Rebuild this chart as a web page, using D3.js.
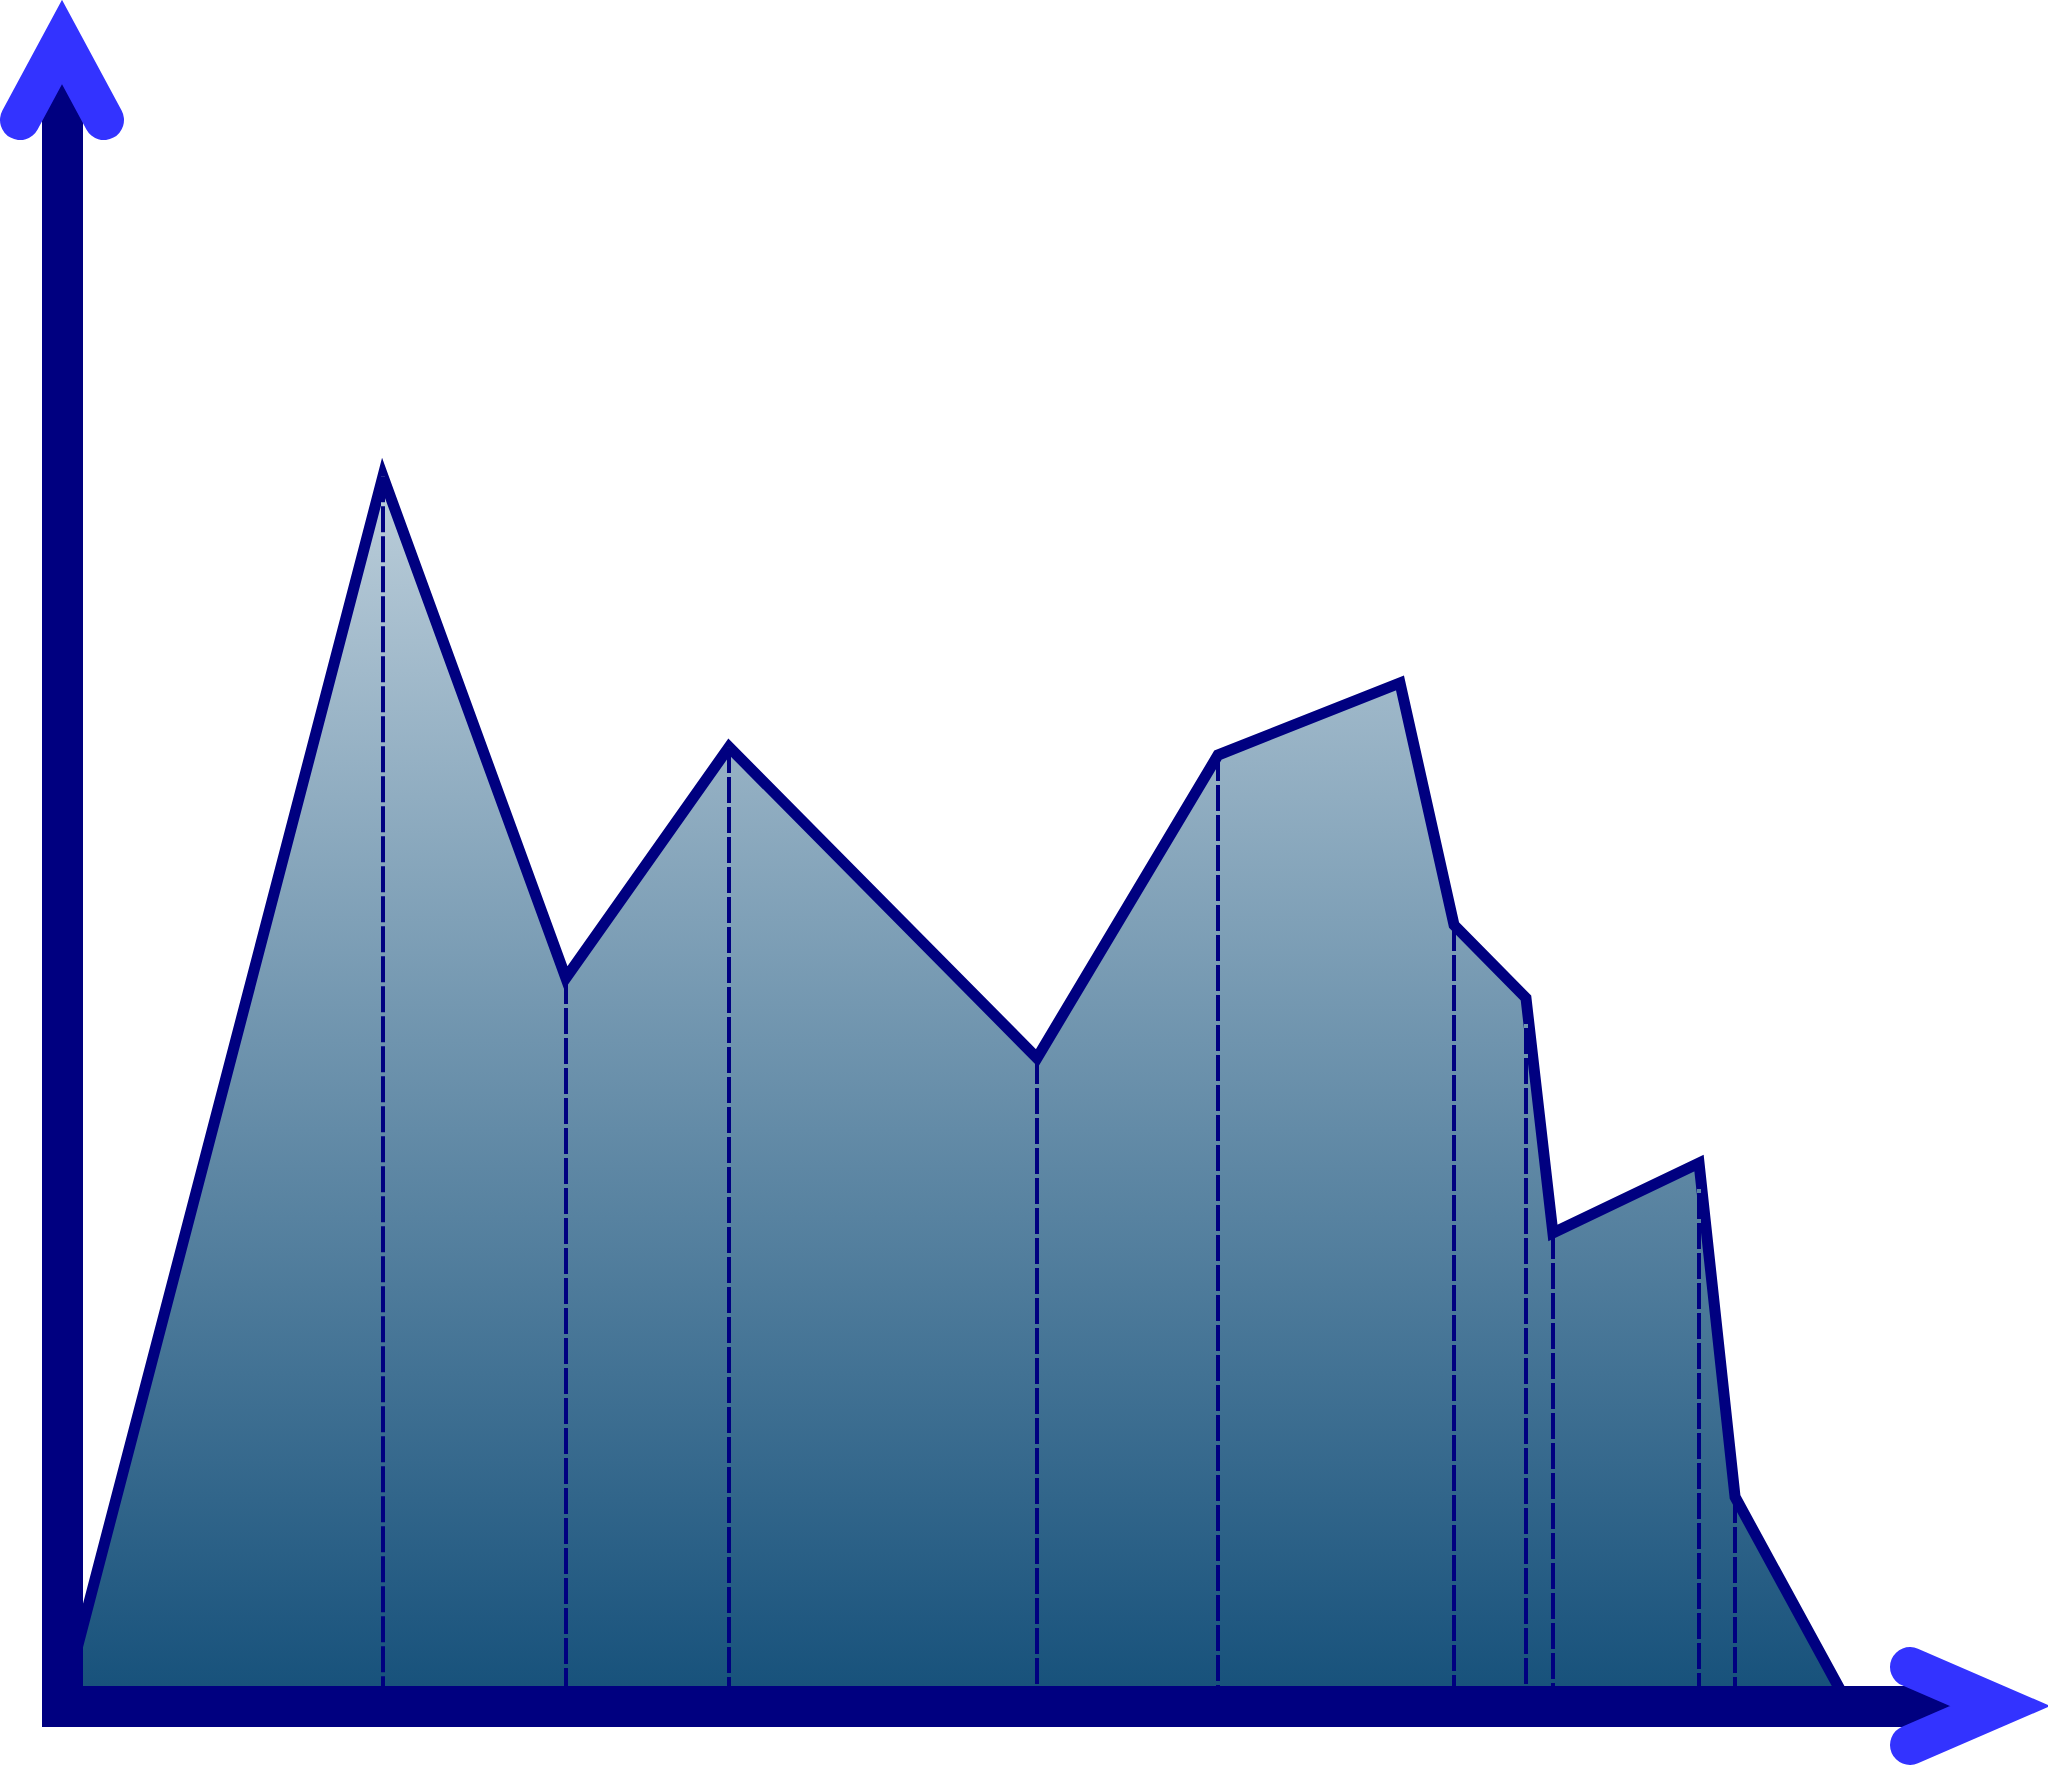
<!DOCTYPE html>
<html>
<head>
<meta charset="utf-8">
<script src="https://d3js.org/d3.v7.min.js"></script>
<style>
  body { margin: 0; background: #ffffff; }
  svg { display: block; }
</style>
</head>
<body>
<div id="chart"></div>
<script>
// Data (axis units: 0..100 on both axes)
var xValues = [0, 16.56, 26.0, 34.42, 50.31, 59.65, 69.04, 71.83, 75.54, 76.93, 84.47, 86.33, 92.21];
var yValues = [0, 73.9, 43.75, 57.63, 38.94, 57.15, 61.48, 46.93, 42.55, 28.43, 32.63, 12.56, 0];
// which points get a dashed drop line down to the x axis
var dropLines = [false, true, true, true, true, true, false, true, true, true, true, true, false];

function init() {
    var w = 2048;
    var h = 1766;

    var navy = "#000080";
    var arrowBlue = "#3333ff";

    // Scales: origin of the axes sits at (62, 1706)
    var x = d3.scaleLinear().domain([0, 100]).range([62, 2000]);
    var y = d3.scaleLinear().domain([0, 100]).range([1706, 42]);

    var data = xValues.map(function (d, i) {
        return { x: d, y: yValues[i], drop: dropLines[i] };
    });

    var svg = d3.select("#chart")
        .append("svg")
        .attr("width", w)
        .attr("height", h)
        .attr("viewBox", "0 0 " + w + " " + h);

    // Vertical gradient for the filled area
    var grad = svg.append("defs")
        .append("linearGradient")
        .attr("id", "areaGrad")
        .attr("gradientUnits", "userSpaceOnUse")
        .attr("x1", 0).attr("x2", 0)
        .attr("y1", y(d3.max(yValues)) - 12)
        .attr("y2", y(0));
    grad.append("stop").attr("offset", 0).attr("stop-color", "#bdcfdb");
    grad.append("stop").attr("offset", 1).attr("stop-color", "#15507a");

    var area = d3.area()
        .x(function (d) { return x(d.x); })
        .y0(y(0))
        .y1(function (d) { return y(d.y); });

    var line = d3.line()
        .x(function (d) { return x(d.x); })
        .y(function (d) { return y(d.y); });

    svg.append("path")
        .datum(data)
        .attr("d", area)
        .attr("fill", "url(#areaGrad)");

    svg.append("path")
        .datum(data)
        .attr("d", line)
        .attr("fill", "none")
        .attr("stroke", navy)
        .attr("stroke-width", 11)
        .attr("stroke-linejoin", "miter");

    // Drop lines: a gradient line under navy dashes (snapped to whole pixels)
    var drops = data.filter(function (d) { return d.drop; });
    var dropX = function (d) { return Math.round(x(d.x)); };

    svg.selectAll("line.dropBase")
        .data(drops)
        .enter()
        .append("line")
        .attr("class", "dropBase")
        .attr("x1", dropX)
        .attr("x2", dropX)
        .attr("y1", function (d) { return y(d.y); })
        .attr("y2", y(0))
        .attr("stroke", "url(#areaGrad)")
        .attr("stroke-width", 4);

    svg.selectAll("line.drop")
        .data(drops)
        .enter()
        .append("line")
        .attr("class", "drop")
        .attr("x1", dropX)
        .attr("x2", dropX)
        .attr("y1", function (d) { return y(d.y); })
        .attr("y2", y(0))
        .attr("stroke", navy)
        .attr("stroke-width", 4)
        .attr("stroke-dasharray", "26,4");

    // Axes (thick navy bars)
    svg.append("line")
        .attr("x1", x(0) + 0.5).attr("x2", x(0) + 0.5)
        .attr("y1", y(0) + 21).attr("y2", y(100))
        .attr("stroke", navy)
        .attr("stroke-width", 41);

    svg.append("line")
        .attr("x1", x(0) - 20).attr("x2", x(100))
        .attr("y1", y(0) + 0.5).attr("y2", y(0) + 0.5)
        .attr("stroke", navy)
        .attr("stroke-width", 41);

    // Arrow heads
    svg.append("path")
        .attr("d", "M" + (x(0) - 42) + "," + (y(100) + 78) +
            "L" + x(0) + "," + y(100) +
            "L" + (x(0) + 42) + "," + (y(100) + 78))
        .attr("fill", "none")
        .attr("stroke", arrowBlue)
        .attr("stroke-width", 40)
        .attr("stroke-linecap", "round")
        .attr("stroke-linejoin", "miter");

    svg.append("path")
        .attr("d", "M" + (x(100) - 90) + "," + (y(0) - 39) +
            "L" + x(100) + "," + y(0) +
            "L" + (x(100) - 90) + "," + (y(0) + 39))
        .attr("fill", "none")
        .attr("stroke", arrowBlue)
        .attr("stroke-width", 40)
        .attr("stroke-linecap", "round")
        .attr("stroke-linejoin", "miter");
}

window.onload = init;
</script>
</body>
</html>
